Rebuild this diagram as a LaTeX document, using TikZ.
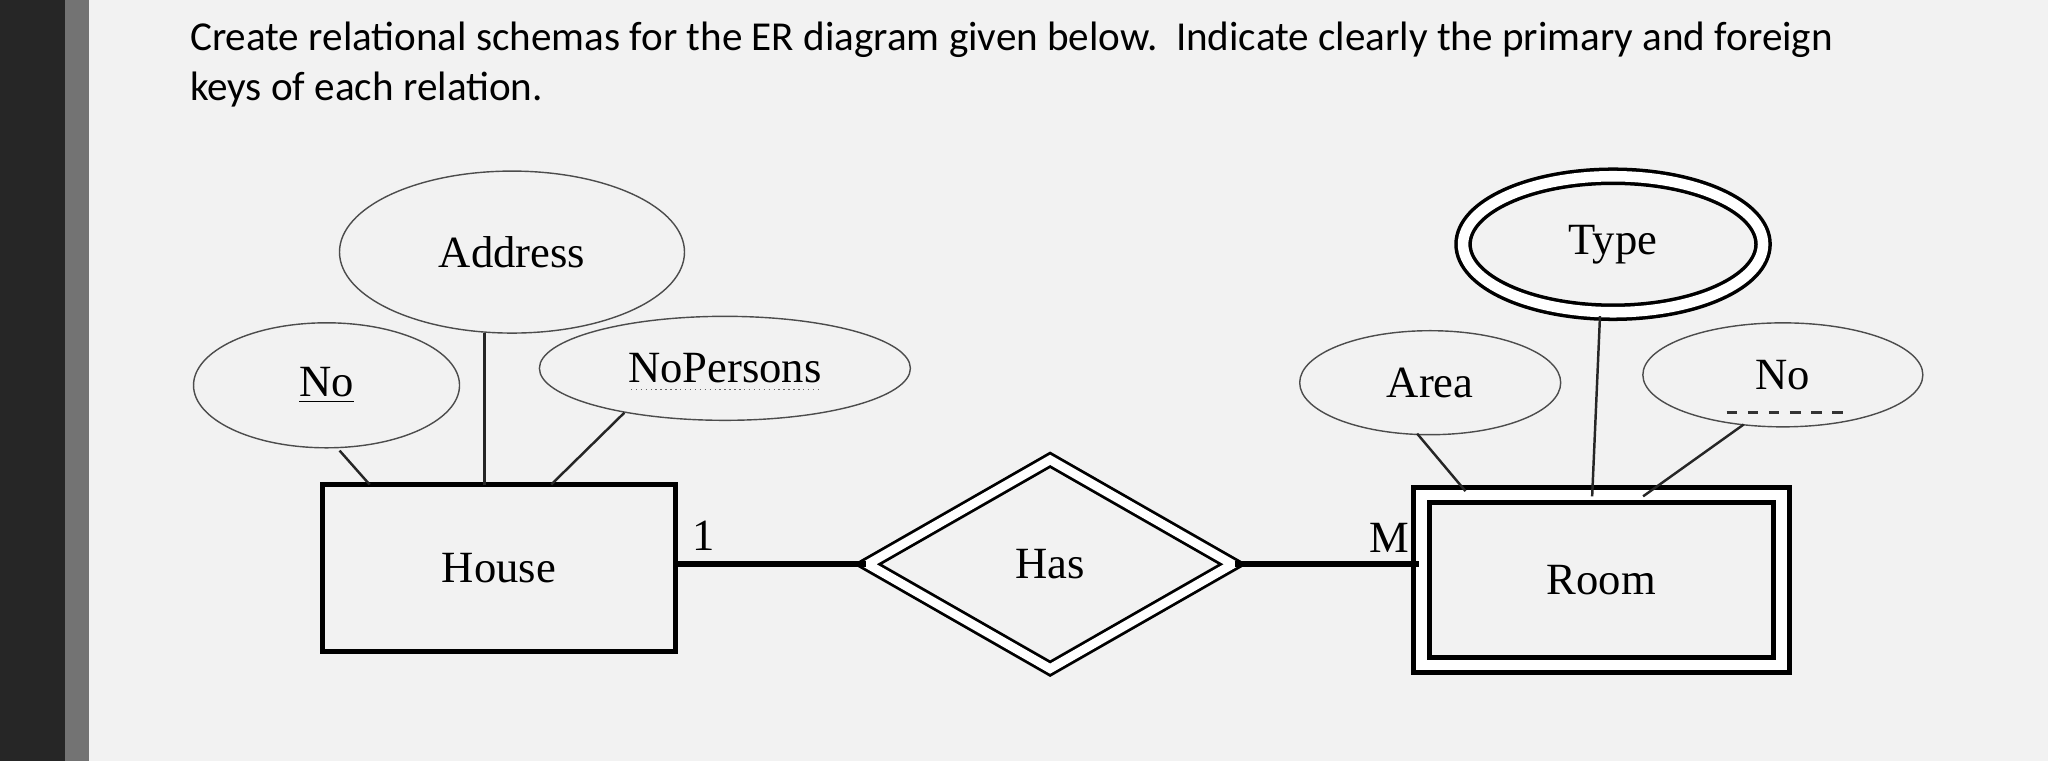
\documentclass[tikz,border=0pt]{standalone}
\usepackage{fontspec}
\setmainfont{Liberation Serif}
\newfontfamily\titlefont{Carlito}
\usetikzlibrary{shapes.geometric}
\begin{document}
\begin{tikzpicture}[x=0.01306cm,y=-0.01306cm,
  attr/.style={draw=black!70,ellipse,inner sep=0pt,font=\fontsize{12.7}{14}\selectfont},
  lbl/.style={font=\fontsize{12.7}{14}\selectfont},
  ln/.style={black!85,line width=0.7pt}]
\useasboundingbox (0,0) rectangle (1568,583);
\fill[gray!10] (0,0) rectangle (1568,583);
\fill[black!85] (0,0) rectangle (50,583);
\fill[black!55] (50,0) rectangle (68,583);
\node[anchor=north west,align=left,inner sep=0pt,font=\titlefont\fontsize{11.7}{14.2}\selectfont] (title) at (145,16)
 {Create relational schemas for the ER diagram given below.\ \ Indicate clearly the primary and foreign\\keys of each relation.};
% House side
\node[attr,minimum width=3.45cm,minimum height=1.62cm] (addr) at (392,193) {Address};
\node[attr,minimum width=2.66cm,minimum height=1.25cm] (no1) at (250,295) {\underline{No}};
\node[attr,minimum width=3.71cm,minimum height=1.04cm] (nop) at (555,282) {NoPersons};
\draw[black!60,densely dotted] (483,298) -- (628,298);
\node[draw,line width=1.6pt,minimum width=3.53cm,minimum height=1.67cm,inner sep=0pt,lbl] (house) at (382,435) {House};
\draw[ln] (260,345) -- (283,371);
\draw[ln] (371,255) -- (371,371);
\draw[ln] (478,316) -- (422,371);
% Has
\node[draw,diamond,double,double distance=2.5pt,line width=0.8pt,aspect=1.75,minimum width=3.66cm,minimum height=2.1cm,inner sep=0pt,lbl] (has) at (804,432) {Has};
\draw[line width=1.6pt] (house.east |- has.west) -- (has.west);
\node[lbl] (one) at (539,410) {1};
% Room
\node[draw,double,double distance=3pt,line width=1.4pt,minimum width=3.6cm,minimum height=1.7cm,inner sep=0pt,lbl] (room) at (1226,444) {Room};
\draw[line width=1.6pt] (has.east) -- (has.east -| room.west);
\node[lbl] (m) at (1064,412) {M};
\node[draw,ellipse,double,double distance=3pt,line width=1pt,minimum width=3.0cm,minimum height=1.36cm,inner sep=0pt,lbl] (type) at (1235,187) {Type};
\node[attr,minimum width=2.61cm,minimum height=1.04cm] (area) at (1095,293) {Area};
\node[attr,minimum width=2.8cm,minimum height=1.04cm] (no2) at (1365,287) {No};
\draw[black!80,dashed,line width=1pt] (1322,316) -- (1418,316);
\draw[ln] (1085,332) -- (1122,376);
\draw[ln] (1225,242) -- (1219,380);
\draw[ln] (1335,325) -- (1258,380);
\end{tikzpicture}
\end{document}
